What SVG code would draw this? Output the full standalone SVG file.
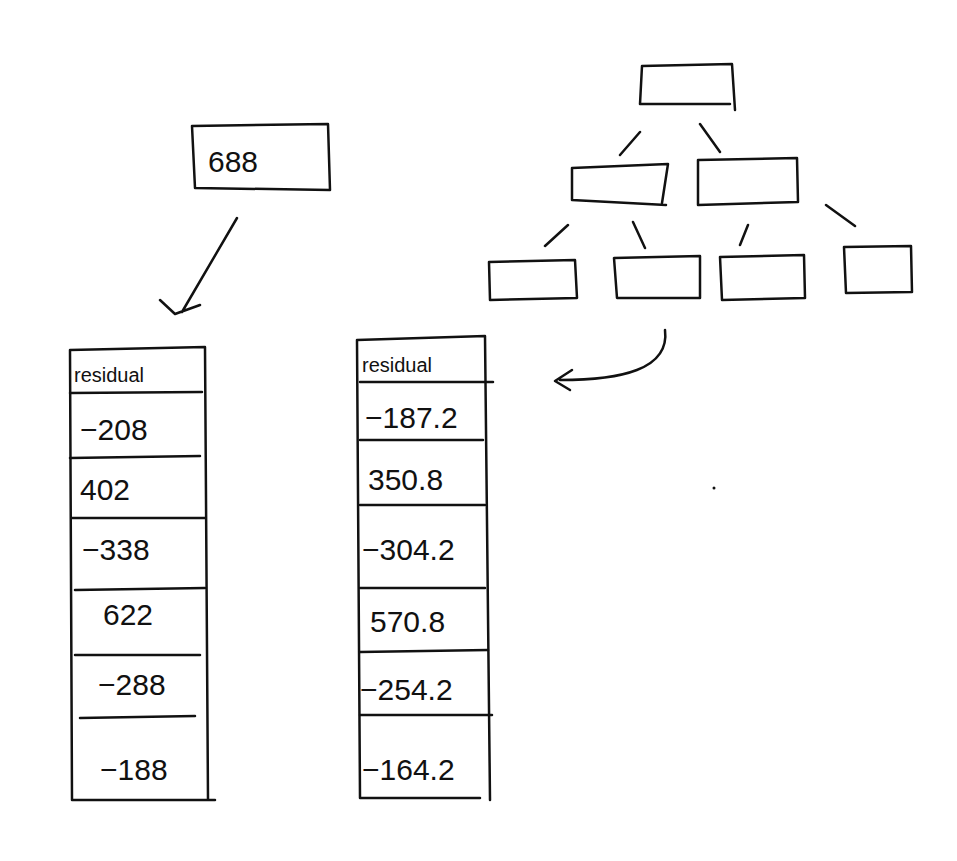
<svg xmlns="http://www.w3.org/2000/svg" width="957" height="861" viewBox="0 0 957 861">
<style>
.s{fill:none;stroke:#111;stroke-width:2.5;stroke-linecap:round;stroke-linejoin:round}
.t{font-family:"Liberation Sans",sans-serif;font-size:30px;fill:#111}
.h{font-family:"Liberation Sans",sans-serif;font-size:20px;fill:#111}
</style>
<rect width="957" height="861" fill="#fff"/>
<g id="root688"><path class="s" d="M192,126 L328,124 L330,190 L195,188 Z"/><text class="t" x="208" y="172">688</text></g>
<g id="tree">
<path class="s" d="M642,66 L732,64 L735,110 M642,66 L640,104 L730,104"/>
<path class="s" d="M572,168 L668,164 L662,203 M572,168 L572,200 L666,205"/>
<path class="s" d="M698,160 L797,158 L798,202 L698,205 Z"/>
<path class="s" d="M489,262 L575,260 L577,298 L490,300 Z"/>
<path class="s" d="M614,258 L700,256 L700,298 L617,298 Z"/>
<path class="s" d="M720,257 L804,255 L805,298 L722,300 Z"/>
<path class="s" d="M844,247 L911,246 L912,292 L846,293 Z"/>
</g>
<g id="connectors">
<path class="s" d="M640,132 L620,155 M700,124 L720,152 M568,225 L545,246 M633,222 L645,248 M748,225 L740,245 M826,205 L855,226"/>
<path class="s" d="M237,218 L182,312 M160,300 L175,314 L200,305"/>
<path class="s" d="M665,330 C670,370 620,380 560,380 M572,370 L555,381 L570,390"/>
</g>
<g id="table1">
<path class="s" d="M70,350 L205,347 L208,800 M70,350 L72,800 L215,800"/>
<path class="s" d="M70,393 L202,392 M70,458 L200,456 M72,518 L205,518 M75,590 L205,588 M75,655 L200,655 M80,718 L195,716"/>
<text class="h" x="74" y="382">residual</text>
<text class="t" x="80" y="440">−208</text>
<text class="t" x="80" y="500">402</text>
<text class="t" x="82" y="560">−338</text>
<text class="t" x="103" y="625">622</text>
<text class="t" x="98" y="695">−288</text>
<text class="t" x="100" y="780">−188</text>
</g>
<g id="table2">
<path class="s" d="M357,340 L485,336 L490,800 M357,340 L360,798 L480,798"/>
<path class="s" d="M360,382 L493,382 M360,440 L483,440 M360,505 L485,505 M360,588 L485,588 M360,652 L488,650 M360,715 L492,715"/>
<text class="h" x="362" y="372">residual</text>
<text class="t" x="365" y="428">−187.2</text>
<text class="t" x="368" y="490">350.8</text>
<text class="t" x="362" y="560">−304.2</text>
<text class="t" x="370" y="632">570.8</text>
<text class="t" x="360" y="700">−254.2</text>
<text class="t" x="362" y="780">−164.2</text>
</g>
<circle cx="714" cy="488" r="1.5" fill="#111"/>
</svg>
